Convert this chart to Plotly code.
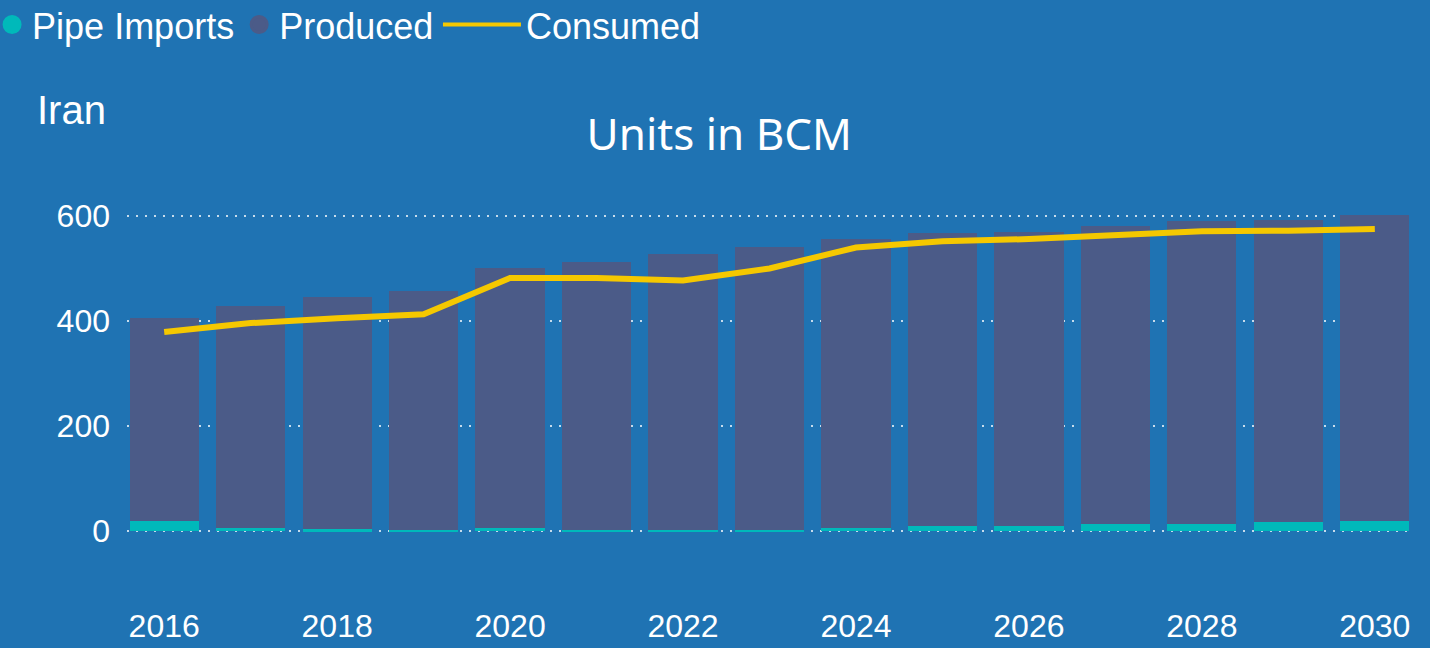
import plotly.graph_objects as go

years = list(range(2016, 2031))
pipe_imports = [20, 5, 3, 1, 6, 1, 1, 1, 5, 9, 9, 13, 13, 17, 20]
produced = [385, 423, 442, 457, 495, 511, 527, 540, 551, 558, 560, 567, 578, 575, 581]
consumed = [379, 396, 405, 413, 482, 482, 477, 500, 540, 552, 556, 564, 571, 572, 575]
y_ticks = [0, 200, 400, 600]
x_ticks = list(range(2016, 2031, 2))

BG = "#1F73B3"
TEAL = "#00B9BA"
PROD = "#4B5B88"
YEL = "#F5C800"
FONT = "Liberation Sans, Arial, sans-serif"

fig = go.Figure()
fig.add_trace(go.Bar(x=years, y=pipe_imports, name="Pipe Imports", marker_color=TEAL,
                     marker_line_width=0, width=0.8, showlegend=False))
fig.add_trace(go.Bar(x=years, y=produced, name="Produced", marker_color=PROD,
                     marker_line_width=0, width=0.8, showlegend=False))
fig.add_trace(go.Scatter(x=years, y=consumed, name="Consumed", mode="lines",
                         line=dict(color=YEL, width=6), showlegend=False))
# legend entries (circle markers as in the original)
fig.add_trace(go.Scatter(x=[None], y=[None], mode="markers", name="Pipe Imports",
                         marker=dict(color=TEAL, size=16, symbol="circle",
                                     line=dict(color=TEAL, width=3))))
fig.add_trace(go.Scatter(x=[None], y=[None], mode="markers", name="Produced",
                         marker=dict(color=PROD, size=16, symbol="circle",
                                     line=dict(color=PROD, width=3))))
fig.add_trace(go.Scatter(x=[None], y=[None], mode="lines", name="Consumed",
                         line=dict(color=YEL, width=4), legend="legend2"))

fig.update_layout(
    barmode="stack",
    width=1430, height=648,
    paper_bgcolor=BG, plot_bgcolor=BG,
    margin=dict(l=127, r=18, t=190, b=44, autoexpand=False),
    font=dict(family=FONT, color="white"),
    title=dict(text="Units in BCM", x=0.503, xref="container", xanchor="center",
               y=1 - 135 / 648, yref="container", yanchor="middle",
               font=dict(family="Noto Sans, Open Sans, sans-serif", size=44, color="white")),
    legend=dict(orientation="h", xref="paper", yref="paper", x=-0.105, y=1.472,
                xanchor="left", yanchor="top", font=dict(size=36, color="white"),
                bgcolor="rgba(0,0,0,0)", itemclick=False, traceorder="normal",
                itemsizing="trace"),
    legend2=dict(orientation="h", xref="paper", yref="paper", x=0.242, y=1.472,
                 xanchor="left", yanchor="top", font=dict(size=36, color="white"),
                 bgcolor="rgba(0,0,0,0)", itemclick=False, itemwidth=78),
    xaxis=dict(range=[2015.57, 2030.43], tickvals=x_ticks, showgrid=False, zeroline=False,
               showline=False, ticks="", automargin=False,
               tickfont=dict(size=32, color="white")),
    yaxis=dict(range=[-139, 649.5], tickvals=y_ticks, showgrid=True,
               gridcolor="rgba(255,255,255,0.75)", gridwidth=2, griddash="2px,7px",
               zeroline=False, showline=False, ticks="", ticklabelstandoff=16,
               automargin=False, tickfont=dict(size=32, color="white")),
    bargap=0.2,
    annotations=[dict(text="Iran", xref="paper", yref="paper", x=-0.0716, y=1.193,
                      xanchor="left", yanchor="middle", showarrow=False,
                      font=dict(family=FONT, size=40, color="white"))],
)

fig.write_html("out.html")
